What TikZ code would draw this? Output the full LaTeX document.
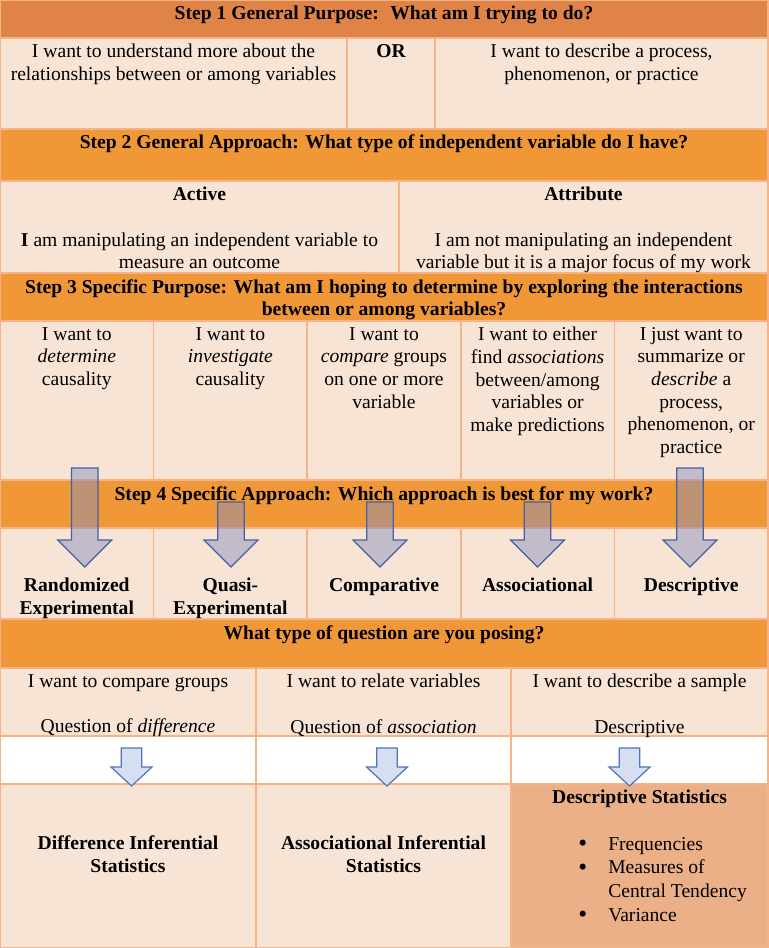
\documentclass[tikz,border=0pt]{standalone}
\usepackage{fontspec}
\setmainfont{Liberation Serif}
\usepackage{xcolor}
\usetikzlibrary{positioning, fit}

\definecolor{stepone}{RGB}{224,131,71}
\definecolor{steporange}{RGB}{240,151,56}
\definecolor{cellpeach}{RGB}{248,228,213}
\definecolor{gridline}{RGB}{244,180,136}
\definecolor{descfill}{RGB}{235,176,136}
\definecolor{arrowedge}{RGB}{68,96,160}
\definecolor{arrowfill}{RGB}{130,140,190}
\definecolor{smallfill}{RGB}{214,222,241}
\definecolor{smalledge}{RGB}{80,115,185}

\begin{document}
\begin{tikzpicture}[
    x=0.75pt, y=-0.75pt,
    cell/.style={rectangle, draw=gridline, line width=1.1pt, fill=cellpeach, inner sep=0pt},
    header/.style={cell, fill=steporange},
    txt/.style={inner sep=0pt, align=center, font=\fontsize{14.7pt}{17pt}\selectfont},
    boldtxt/.style={txt, font=\fontsize{14.7pt}{17pt}\selectfont\bfseries},
    bigarrow/.style={draw=arrowedge, line width=0.9pt, fill=arrowfill, fill opacity=0.45},
    smallarrow/.style={draw=smalledge, line width=0.9pt, fill=smallfill}
]
    \useasboundingbox (0,0) rectangle (768,948);

    % Step 1
    \node[header, fill=stepone, fit={(0,0) (768,38)}] (step1) {};
    \node[cell, fit={(0,38) (347,129)}] (relate) {};
    \node[cell, fit={(347,38) (435,129)}] (orcell) {};
    \node[cell, fit={(435,38) (768,129)}] (describe) {};

    % Step 2
    \node[header, fit={(0,129) (768,181)}] (step2) {};
    \node[cell, fit={(0,181) (399,273)}] (active) {};
    \node[cell, fit={(399,181) (768,273)}] (attribute) {};

    % Step 3
    \node[header, fit={(0,273) (768,321)}] (step3) {};
    \node[cell, fit={(0,321) (153.6,480)}] (purp1) {};
    \node[cell, fit={(153.6,321) (307.2,480)}] (purp2) {};
    \node[cell, fit={(307.2,321) (460.8,480)}] (purp3) {};
    \node[cell, fit={(460.8,321) (614.4,480)}] (purp4) {};
    \node[cell, fit={(614.4,321) (768,480)}] (purp5) {};

    % Step 4
    \node[header, fit={(0,480) (768,528)}] (step4) {};
    \node[cell, fit={(0,528) (153.6,619)}] (appr1) {};
    \node[cell, fit={(153.6,528) (307.2,619)}] (appr2) {};
    \node[cell, fit={(307.2,528) (460.8,619)}] (appr3) {};
    \node[cell, fit={(460.8,528) (614.4,619)}] (appr4) {};
    \node[cell, fit={(614.4,528) (768,619)}] (appr5) {};

    % Question type
    \node[header, fit={(0,619) (768,668)}] (question) {};
    \node[cell, fit={(0,668) (256,736)}] (ques1) {};
    \node[cell, fit={(256,668) (511,736)}] (ques2) {};
    \node[cell, fit={(511,668) (768,736)}] (ques3) {};
    \node[cell, fill=white, fit={(0,736) (256,784)}] (gap1) {};
    \node[cell, fill=white, fit={(256,736) (511,784)}] (gap2) {};
    \node[cell, fill=white, fit={(511,736) (768,784)}] (gap3) {};
    \node[cell, fit={(0,784) (256,948)}] (stat1) {};
    \node[cell, fit={(256,784) (511,948)}] (stat2) {};
    \node[cell, fill=descfill, fit={(511,784) (768,948)}] (stat3) {};

    % Texts
    \node[boldtxt, below=5pt of step1.north] {Step 1 General Purpose:~ What am I trying to do?};
    \node[txt, below=5pt of relate.north] {I want to understand more about the\\relationships between or among variables};
    \node[boldtxt, below=5pt of orcell.north] {OR};
    \node[txt, below=5pt of describe.north] {I want to describe a process,\\phenomenon, or practice};

    \node[boldtxt, below=5pt of step2.north] {Step 2 General Approach: What type of independent variable do I have?};
    \node[txt, below=5pt of active.north] {\textbf{Active}\\[17pt]\textbf{I} am manipulating an independent variable to\\measure an outcome};
    \node[txt, below=5pt of attribute.north] {\textbf{Attribute}\\[17pt]I am not manipulating an independent\\variable but it is a major focus of my work};

    \node[boldtxt, below=5pt of step3.north] {Step 3 Specific Purpose: What am I hoping to determine by exploring the interactions\\between or among variables?};
    \node[txt, below=5pt of purp1.north] {I want to\\\textit{determine}\\causality};
    \node[txt, below=5pt of purp2.north] {I want to\\\textit{investigate}\\causality};
    \node[txt, below=5pt of purp3.north] {I want to\\\textit{compare} groups\\on one or more\\variable};
    \node[txt, below=5pt of purp4.north] {I want to either\\find \textit{associations}\\between/among\\variables or\\make predictions};
    \node[txt, below=5pt of purp5.north] {I just want to\\summarize or\\\textit{describe} a\\process,\\phenomenon, or\\practice};

    \node[boldtxt, below=5pt of step4.north] {Step 4 Specific Approach: Which approach is best for my work?};
    \node[boldtxt, below=37.8pt of appr1.north] {Randomized\\Experimental};
    \node[boldtxt, below=37.8pt of appr2.north] {Quasi-\\Experimental};
    \node[boldtxt, below=37.8pt of appr3.north] {Comparative};
    \node[boldtxt, below=37.8pt of appr4.north] {Associational};
    \node[boldtxt, below=37.8pt of appr5.north] {Descriptive};

    \node[boldtxt, below=5pt of question.north] {What type of question are you posing?};
    \node[txt, below=5pt of ques1.north] {I want to compare groups\\[17pt]Question of \textit{difference}};
    \node[txt, below=5pt of ques2.north] {I want to relate variables\\[17pt]Question of \textit{association}};
    \node[txt, below=5pt of ques3.north] {I want to describe a sample\\[17pt]Descriptive};

    \node[boldtxt, below=39pt of stat1.north] {Difference Inferential\\Statistics};
    \node[boldtxt, below=39pt of stat2.north] {Associational Inferential\\Statistics};
    \node[boldtxt, below=5pt of stat3.north] (deschead) {Descriptive Statistics};
    \node[txt, align=left, anchor=north west, font=\fontsize{14.7pt}{17.7pt}\selectfont] (desclist) at (578,837)
        {\makebox[22.5pt][l]{\raisebox{-1.3pt}{\fontsize{19pt}{17pt}\selectfont\textbullet}}Frequencies\\\makebox[22.5pt][l]{\raisebox{-1.3pt}{\fontsize{19pt}{17pt}\selectfont\textbullet}}Measures of\\\makebox[22.5pt][l]{}Central Tendency\\\makebox[22.5pt][l]{\raisebox{-1.3pt}{\fontsize{19pt}{17pt}\selectfont\textbullet}}Variance};

    % Arrows from purpose to approach
    \draw[bigarrow] (71.5,468) -- (98,468) -- (98,540) -- (111.75,540) -- (84.75,567) -- (57.75,540) -- (71.5,540) -- cycle;
    \draw[bigarrow] (217.75,502) -- (244.25,502) -- (244.25,540) -- (258,540) -- (231,567) -- (204,540) -- (217.75,540) -- cycle;
    \draw[bigarrow] (366.75,502) -- (393.25,502) -- (393.25,540) -- (407,540) -- (380,567) -- (353,540) -- (366.75,540) -- cycle;
    \draw[bigarrow] (524.25,502) -- (550.75,502) -- (550.75,540) -- (564.5,540) -- (537.5,567) -- (510.5,540) -- (524.25,540) -- cycle;
    \draw[bigarrow] (676.75,468) -- (703.25,468) -- (703.25,540) -- (717,540) -- (690,567) -- (663,540) -- (676.75,540) -- cycle;

    % Arrows from question to statistics
    \draw[smallarrow] (121.25,748) -- (141.75,748) -- (141.75,767) -- (152,767) -- (131.5,786) -- (111,767) -- (121.25,767) -- cycle;
    \draw[smallarrow] (376.75,748) -- (397.25,748) -- (397.25,767) -- (407.5,767) -- (387,786) -- (366.5,767) -- (376.75,767) -- cycle;
    \draw[smallarrow] (619.25,748) -- (639.75,748) -- (639.75,767) -- (650,767) -- (629.5,786) -- (609,767) -- (619.25,767) -- cycle;
\end{tikzpicture}
\end{document}
